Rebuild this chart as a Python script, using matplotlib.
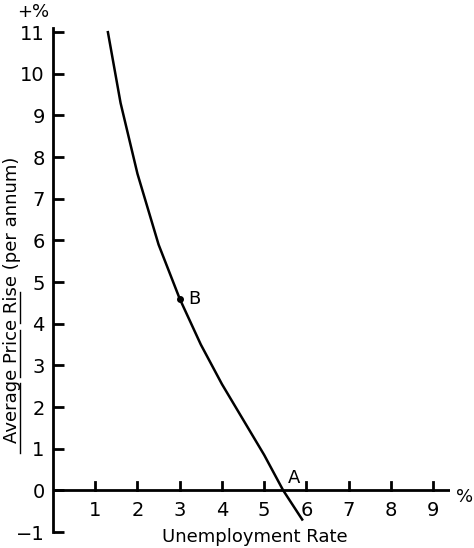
import matplotlib.pyplot as plt

# curve
unemp = [1.3, 1.6, 2.0, 2.5, 3.0, 3.5, 4.0, 4.5, 5.0, 5.45, 5.9]
price = [11.0, 9.3, 7.6, 5.9, 4.6, 3.5, 2.55, 1.7, 0.85, 0.0, -0.7]
xticks = [1, 2, 3, 4, 5, 6, 7, 8, 9]
yticks = [-1, 0, 1, 2, 3, 4, 5, 6, 7, 8, 9, 10, 11]

fig = plt.figure(figsize=(4.74, 5.48), dpi=100)
ax = fig.add_axes([53 / 474, 16 / 548, 397 / 474, 504 / 548])
ax.set_xlim(0, 9.4)
ax.set_ylim(-1, 11.1)
for s in ["top", "right", "bottom"]:
    ax.spines[s].set_visible(False)
ax.spines["left"].set_linewidth(2)
ax.axhline(0, color="black", lw=2)

ax.set_yticks(yticks)
ax.tick_params(axis="y", direction="in", length=8, width=2, labelsize=14, pad=6)
ax.set_xticks([])
for t in xticks:
    ax.plot([t, t], [0, 0.2], color="black", lw=2)
    ax.text(t, -0.25, str(t), ha="center", va="top", fontsize=14)

ax.plot(unemp, price, color="black", lw=1.8)
ax.plot(3.0, 4.6, "o", color="black", ms=4)
ax.text(3.2, 4.6, "B", fontsize=13, va="center")
ax.text(5.55, 0.08, "A", fontsize=13, va="bottom")

fig.text(33 / 474, 1 - 12 / 548, "+%", fontsize=13, ha="center", va="center")
fig.text(465 / 474, 1 - 497 / 548, "%", fontsize=13, ha="center", va="center")
fig.text(255 / 474, 1 - 537 / 548, "Unemployment Rate", fontsize=13, ha="center", va="center")
fig.text(12 / 474, 1 - 300 / 548, "Average Price Rise (per annum)", fontsize=13,
         rotation=90, ha="center", va="center")
# underlines under Average, Price, Rise (figure pixels, from bottom)
for y0, y1 in [(453, 383), (377, 330), (323, 292)]:
    fig.add_artist(plt.Line2D([20 / 474, 20 / 474], [1 - y0 / 548, 1 - y1 / 548], color="black", lw=1))

fig.savefig("out.png", dpi=100)
